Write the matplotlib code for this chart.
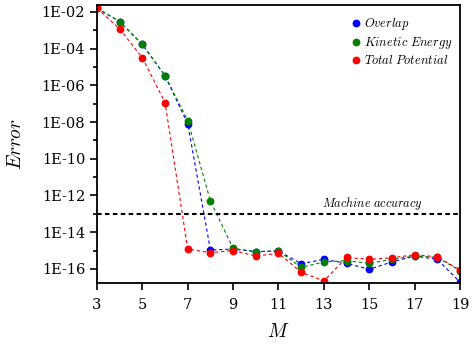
import matplotlib
matplotlib.use('Agg')
import matplotlib.pyplot as plt
from matplotlib.ticker import NullFormatter, FixedLocator

plt.rcParams['mathtext.fontset'] = 'cm'
plt.rcParams['font.family'] = 'DejaVu Serif'

# %% errors vs number of basis functions M
M = [3, 4, 5, 6, 7, 8, 9, 10, 11, 12, 13, 14, 15, 16, 17, 18, 19]
overlap = [1.6e-2, 3e-3, 1.7e-4, 3.3e-6, 8e-9, 1.07e-15, 1.2e-15, 8.7e-16,
           9.5e-16, 1.9e-16, 3.3e-16, 2e-16, 9.5e-17, 2.4e-16, 5e-16,
           3.3e-16, 1.9e-17]
kinetic = [1.6e-2, 3e-3, 1.7e-4, 3.4e-6, 1.2e-8, 5e-13, 1.3e-15, 8.7e-16,
           9.5e-16, 1.2e-16, 2.4e-16, 2.8e-16, 2e-16, 3.3e-16, 5e-16,
           4.2e-16, 8e-17]
potential = [1.6e-2, 1.2e-3, 3.2e-5, 1.15e-7, 1.2e-15, 7.6e-16, 1e-15,
             5e-16, 7e-16, 6.6e-17, 2.2e-17, 4.2e-16, 3.3e-16, 4e-16,
             5.9e-16, 4.5e-16, 8.7e-17]
machine_eps = 1e-13

series = [(overlap, '#0000ff', r'$Overlap$'),
          (kinetic, '#008000', r'$Kinetic\ Energy$'),
          (potential, '#ff0000', r'$Total\ Potential$')]

fig = plt.figure(figsize=(4.74, 3.48), dpi=100)
ax = fig.add_axes([0.2046, 0.1868, 0.7659, 0.7988])

for vals, col, lab in series:
    ax.plot(M, vals, ls=(0, (3, 2.5)), lw=0.8, color=col)
for vals, col, lab in series:
    ax.plot(M, vals, ls='none', marker='o', ms=4.6, color=col, label=lab)

ax.axhline(machine_eps, color='k', ls=(0, (2.2, 1.6)), lw=1.5)
ax.text(17.35, machine_eps * 1.25, r'$Machine\ accuracy$', fontsize=8.8,
        ha='right', va='bottom')

ax.set_yscale('log')
ax.set_xlim(3, 19)
ax.set_ylim(1.7e-17, 2.4e-2)
ax.xaxis.set_major_locator(FixedLocator([3, 5, 7, 9, 11, 13, 15, 17, 19]))
ax.yaxis.set_major_locator(FixedLocator([10.0**e for e in range(-16, -1, 2)]))
ax.yaxis.set_minor_locator(FixedLocator([10.0**e for e in range(-17, -1, 2)]))
ax.yaxis.set_minor_formatter(NullFormatter())
ax.set_yticklabels(['1E-%02d' % -e for e in range(-16, -1, 2)])
ax.tick_params(which='both', direction='out', width=1.2, labelsize=10.5,
               right=False, top=False)
ax.tick_params(which='major', length=5)
ax.tick_params(which='minor', length=3)
ax.tick_params(axis='x', pad=6)
for s in ax.spines.values():
    s.set_linewidth(1.3)

ax.set_xlabel(r'$M$', fontsize=14, labelpad=8)
ax.set_ylabel(r'$Error$', fontsize=14, labelpad=12)

ax.legend(loc='upper right', frameon=False, fontsize=9, handletextpad=0.05,
          handlelength=1.2, borderaxespad=0.2, labelspacing=0.25,
          bbox_to_anchor=(1.0, 0.987))

fig.savefig('out.png', dpi=100)
